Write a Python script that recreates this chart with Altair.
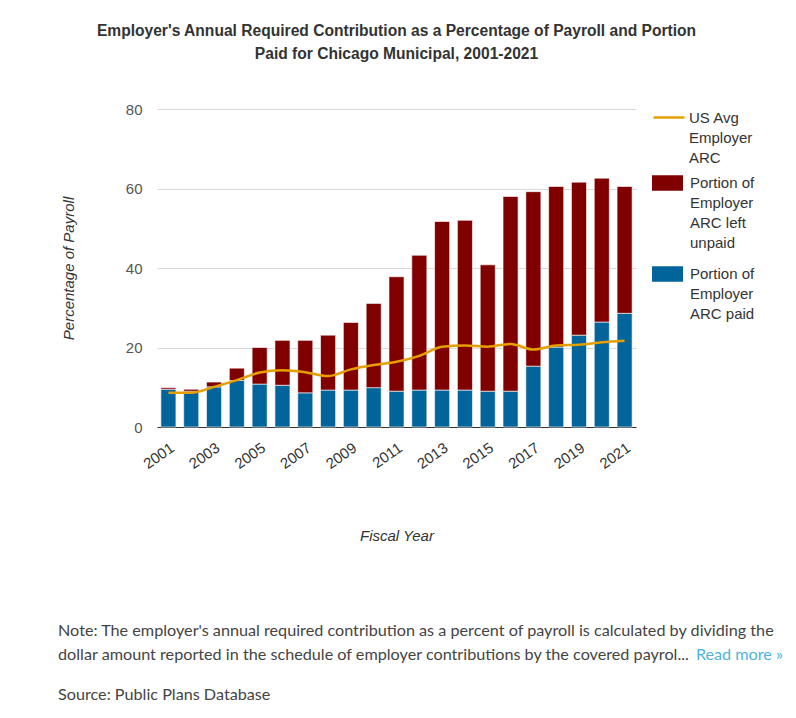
import altair as alt
import pandas as pd

years = [str(y) for y in range(2001, 2022)]
paid = [9.5, 9.0, 10.1, 11.7, 10.8, 10.5, 8.6, 9.3, 9.3, 9.9, 9.0, 9.3, 9.3, 9.3, 9.0, 9.0, 15.3, 20.1, 23.1, 26.4, 28.6]
unpaid = [0.4, 0.5, 1.2, 3.1, 9.2, 11.3, 13.2, 13.8, 17.0, 21.2, 28.8, 33.9, 42.4, 42.7, 31.8, 49.0, 43.9, 40.4, 38.5, 36.2, 31.9]
us_avg = [8.6, 8.6, 10.1, 11.8, 13.7, 14.3, 13.8, 12.8, 14.5, 15.6, 16.4, 17.9, 20.2, 20.5, 20.2, 20.9, 19.5, 20.5, 20.7, 21.3, 21.7]

S_UNPAID = "Portion of Employer ARC left unpaid"
S_PAID = "Portion of Employer ARC paid"
S_AVG = "US Avg Employer ARC"

bars_df = pd.DataFrame(
    [{"year": y, "series": S_PAID, "value": v, "ord": 0} for y, v in zip(years, paid)]
    + [{"year": y, "series": S_UNPAID, "value": v, "ord": 1} for y, v in zip(years, unpaid)]
)
line_df = pd.DataFrame({"year": years, "value": us_avg, "series": S_AVG})

FONT = "Liberation Sans"
NOTE_FONT = "Lato"

x_enc = alt.X(
    "year:N",
    title="Fiscal Year",
    scale=alt.Scale(paddingInner=0.34, paddingOuter=0.17),
    axis=alt.Axis(
        labelAngle=325,
        labelAlign="right",
        labelBaseline="top",
        labelExpr="parseInt(datum.value) % 2 == 1 ? datum.label : ''",
        labelFontSize=15,
        labelColor="#333333",
        labelFont=FONT,
        ticks=False,
        labelPadding=13,
        domainColor="#333333",
        titleFontStyle="italic",
        titleFontWeight="normal",
        titleFontSize=15,
        titleColor="#333333",
        titleFont=FONT,
        titleY=108,
        titleBaseline="middle",
        grid=False,
    ),
)

y_axis = alt.Axis(
    values=[0, 10, 20, 30, 40, 50, 60, 70, 80],
    labelExpr="datum.value % 20 == 0 ? datum.label : ''",
    gridColor={"condition": {"test": "datum.value % 20 == 0", "value": "#d8d8d8"}, "value": "#efefef"},
    domain=False,
    ticks=False,
    labelPadding=15,
    labelFontSize=15,
    labelColor="#555555",
    labelFont=FONT,
    title="Percentage of Payroll",
    titleFontStyle="italic",
    titleFontWeight="normal",
    titleFontSize=15,
    titleColor="#333333",
    titleFont=FONT,
    titleX=-89,
    titleY=159,
    titleAngle=270,
    titleBaseline="middle",
)

rect_path = "M-1,-0.5H1V0.5H-1Z"

bars = alt.Chart(bars_df).mark_bar(stroke="#ffffff", strokeOpacity=0.6, strokeWidth=1).encode(
    x=x_enc,
    y=alt.Y("value:Q", stack="zero", scale=alt.Scale(domain=[0, 80], nice=False), axis=y_axis),
    fill=alt.Fill(
        "series:N",
        scale=alt.Scale(domain=[S_UNPAID, S_PAID], range=["#800000", "#01659b"]),
        legend=alt.Legend(
            title=None,
            orient="none",
            legendX=495,
            legendY=58.5,
            symbolType=rect_path,
            symbolSize=961,
            symbolStrokeWidth=0,
            labelFontSize=15,
            labelFont=FONT,
            labelColor="#333333",
            labelLimit=300,
            labelOffset=7,
            labelBaseline="middle",
            rowPadding=7,
            labelExpr="datum.label == '" + S_UNPAID + "' ? ['Portion of', 'Employer', 'ARC left', 'unpaid'] : ['Portion of', 'Employer', 'ARC paid']",
        ),
    ),
    order=alt.Order("ord:Q"),
)

line = alt.Chart(line_df).mark_line(interpolate="monotone", strokeWidth=2.5).encode(
    x=alt.X("year:N"),
    y=alt.Y("value:Q"),
    color=alt.Color(
        "series:N",
        scale=alt.Scale(domain=[S_AVG], range=["#e69f00"]),
        legend=alt.Legend(
            title=None,
            orient="none",
            legendX=495,
            legendY=-8.5,
            symbolType="stroke",
            symbolSize=961,
            symbolStrokeWidth=2.5,
            labelFontSize=15,
            labelFont=FONT,
            labelColor="#333333",
            labelLimit=300,
            labelOffset=3,
            labelBaseline="middle",
            labelExpr="['US Avg', 'Employer', 'ARC']",
        ),
    ),
)

note1 = "Note: The employer's annual required contribution as a percent of payroll is calculated by dividing the"
note2 = "dollar amount reported in the schedule of employer contributions by the covered payrol..."
read_more = "Read more \u00bb"
source = "Source: Public Plans Database"

def txt(s, x, y, color="#444444", align="left"):
    return alt.Chart(pd.DataFrame({"t": [s]})).mark_text(
        align=align, baseline="middle", font=NOTE_FONT, fontSize=16.2, color=color
    ).encode(text="t:N", x=alt.value(x), y=alt.value(y))

notes = (
    txt(note1, -99, 522)
    + txt(note2, -99, 546)
    + txt(read_more, 626, 546, color="#4fb3dc", align="right")
    + txt(source, -99, 586)
)

chart = alt.layer(bars, line, notes).resolve_scale(fill="independent", color="independent").properties(
    width=479,
    height=318,
    autosize=alt.AutoSizeParams(type="none"),
    padding={"left": 157, "top": 109, "right": 160, "bottom": 291},
    background="#ffffff",
    title=alt.TitleParams(
        ["Employer's Annual Required Contribution as a Percentage of Payroll and Portion",
         "Paid for Chicago Municipal, 2001-2021"],
        font=FONT,
        fontSize=15.6,
        fontWeight="bold",
        color="#333333",
        lineHeight=22.5,
        anchor="middle",
        offset=38,
    ),
).configure(
    style={"guide-label": {"lineHeight": 20}}
).configure_view(strokeWidth=0, stroke="transparent")

chart.save("out.html", embed_options={"renderer": "svg", "actions": False})
